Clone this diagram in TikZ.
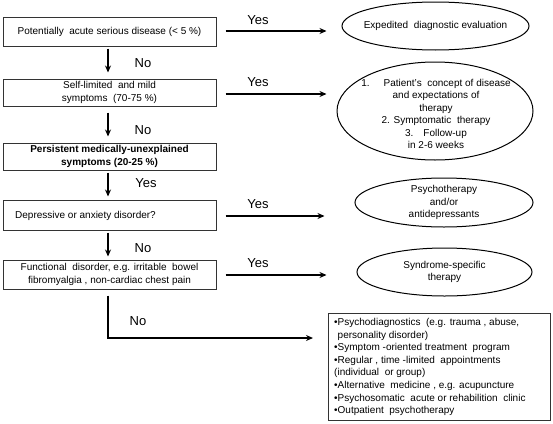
\documentclass[tikz,border=0pt]{standalone}
\usepackage{fontspec}
\setmainfont{Liberation Sans}
\usetikzlibrary{arrows.meta,shapes.geometric}
\begin{document}
\begin{tikzpicture}[x=1pt,y=-1pt,
  box/.style={draw=black!80,line width=1pt,minimum width=213pt,inner sep=0pt,align=center,font=\fontsize{10}{12.5}\selectfont},
  oval/.style={draw,ellipse,line width=1pt,inner sep=0pt},
  otext/.style={align=center,inner sep=0pt,font=\fontsize{10}{12.4}\selectfont},
  arr/.style={line width=1.4pt,-{Stealth[length=7pt,width=6pt]}},
  lab/.style={font=\fontsize{13}{15}\selectfont,inner sep=0pt}]
\useasboundingbox (0,0) rectangle (553,423);
% left boxes
\node[box,minimum height=29pt] (b1) at (109.5,31.5) {Potentially\ \ acute serious disease (< 5 \%)};
\node[box,minimum height=27pt] (b2) at (109.5,92.5) {Self-limited\ \ and mild\\symptoms\ \ (70-75 \%)};
\node[box,minimum height=27pt,font=\bfseries\fontsize{10}{13}\selectfont] (b3) at (109.5,156.5) {Persistent medically-unexplained\\symptoms (20-25 \%)};
\node[box,minimum height=30pt] (b4) at (109.5,215) {};
\node[anchor=west,inner sep=0pt,font=\fontsize{10}{12.5}\selectfont] (t4) at (15,215.5) {Depressive or anxiety disorder?};
\node[box,minimum height=29pt] (b5) at (109.5,274.5) {Functional\ \ disorder, e.g. irritable\ \ bowel\\fibromyalgia , non-cardiac chest pain};
% ellipses
\node[oval,minimum width=187pt,minimum height=48pt] (e1) at (435.5,26) {};
\node[otext] (t1) at (e1.center) {Expedited\ \ diagnostic evaluation};
\node[oval,minimum width=196pt,minimum height=98pt] (e2) at (435,111) {};
\node[otext] (t2) at (436,114) {1.\hspace{14pt}Patient's\ \ concept of disease\\and expectations of\\therapy\\2. Symptomatic\ \ therapy\\3.\hspace{10pt}Follow-up\\in 2-6 weeks};
\node[oval,minimum width=178pt,minimum height=49pt] (e3) at (444,202.5) {};
\node[otext] (t3) at (e3.center) {Psychotherapy\\and/or\\antidepressants};
\node[oval,minimum width=175pt,minimum height=48pt] (e4) at (444.5,272) {};
\node[otext] (t5) at (e4.center) {Syndrome-specific\\therapy};
% final box
\node[draw=black!80,line width=1pt,anchor=north west,minimum width=222pt,minimum height=107pt,inner sep=0pt] (b6) at (328,313) {};
\node[anchor=north west,inner sep=0pt,align=left,font=\fontsize{10}{12.6}\selectfont] (t6) at (334,318) {%
•Psychodiagnostics\ \ (e.g. trauma , abuse,\\
\hspace*{3.5pt}personality disorder)\\
•Symptom -oriented treatment\ \ program\\
•Regular , time -limited\ \ appointments\\
(individual\ \ or group)\\
•Alternative\ \ medicine , e.g. acupuncture\\
•Psychosomatic\ \ acute or rehabilition\ \ clinic\\
•Outpatient\ \ psychotherapy};
% horizontal arrows
\draw[arr,shorten <=9pt,shorten >=15pt] ([yshift=0.5pt]b1.east) -- ([yshift=0.5pt]b1.east -| e1.west);
\draw[arr,shorten <=9pt,shorten >=10pt] ([yshift=-1.5pt]b2.east) -- ([yshift=-1.5pt]b2.east -| e2.west);
\draw[arr,shorten <=9pt,shorten >=30pt] ([yshift=-1pt]b4.east) -- ([yshift=-1pt]b4.east -| e3.west);
\draw[arr,shorten <=9pt,shorten >=30pt] ([yshift=-0.5pt]b5.east) -- ([yshift=-0.5pt]b5.east -| e4.west);
% down arrows
\draw[arr,shorten <=2pt,shorten >=6pt] ([xshift=-1.5pt]b1.south) -- ([xshift=-1.5pt]b2.north);
\draw[arr,shorten <=6pt,shorten >=6pt] ([xshift=-1.5pt]b2.south) -- ([xshift=-1.5pt]b3.north);
\draw[arr,shorten <=2pt,shorten >=3pt] ([xshift=-1.5pt]b3.south) -- ([xshift=-1.5pt]b4.north);
\draw[arr,shorten <=2pt,shorten >=3pt] ([xshift=-1.5pt]b4.south) -- ([xshift=-1.5pt]b5.north);
\coordinate (cend) at (313,338);
\draw[arr,shorten <=6pt] ([xshift=-1.5pt]b5.south) |- (cend);
% labels
\node[lab] (y1) at (258,20) {Yes};
\node[lab] (y2) at (258,82) {Yes};
\node[lab] (y3) at (258,204) {Yes};
\node[lab] (y4) at (258,263) {Yes};
\node[lab] (n1) at (143,63) {No};
\node[lab] (n2) at (143,130) {No};
\node[lab] (y5) at (146,183) {Yes};
\node[lab] (n3) at (143,248) {No};
\node[lab] (n4) at (138,321) {No};
\end{tikzpicture}
\end{document}
